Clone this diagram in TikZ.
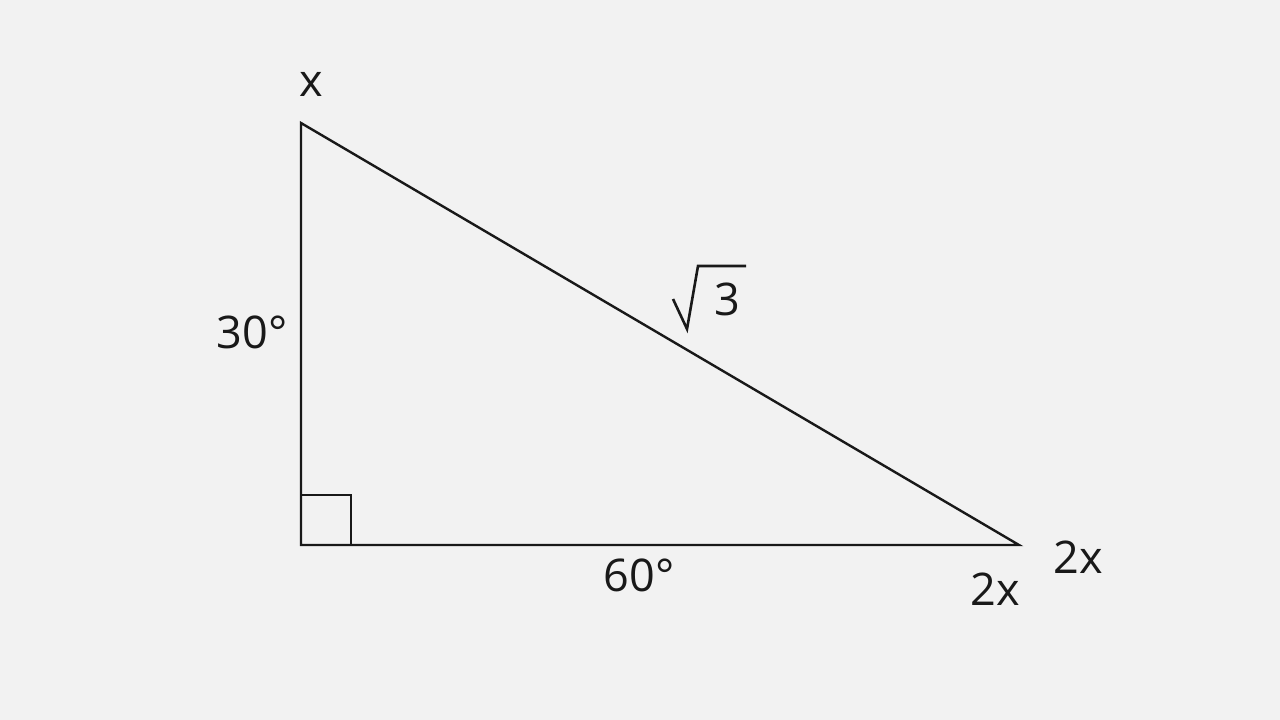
\documentclass[tikz,border=0pt]{standalone}
\usepackage{fontspec}
\setmainfont{Open Sans}
\begin{document}
\begin{tikzpicture}[x=1pt, y=-1pt]
		\tikzset{lbl/.style={inner sep=0pt, text=black!90, font=\fontsize{45}{54}\selectfont}};
		\tikzset{edge/.style={draw=black!90, line width=2.4pt, line join=miter}};

		\fill[black!5] (0, 0) rectangle (1280, 720);
		\useasboundingbox (0, 0) rectangle (1280, 720);

		\coordinate (top) at (301, 123);
		\coordinate (rt) at (301, 545);
		\coordinate (rgt) at (1019, 545);

		\draw[edge] (top) -- (rt) -- (rgt) -- cycle;
		\draw[edge] (rt) rectangle (351, 495);

		\node[lbl] (x) at (311, 84) {x};
		\node[lbl] (a30) at (252, 332) {30°};
		\node[lbl] (a60) at (639, 575) {60°};
		\node[lbl] (b2x) at (995, 589) {2x};
		\node[lbl] (c2x) at (1078, 557) {2x};

		% root sign drawn by hand
		\node[lbl] (r3) at (727, 299) {3};
		\coordinate (rs) at (673, 299);
		\coordinate (rb) at (687, 329);
		\coordinate (rtop) at (698, 266);
		\coordinate (rend) at (746, 266);
		\draw[black!90, line width=2.6pt, line join=miter] (rs) -- (rb) -- (rtop) -- (rend);
	\end{tikzpicture}
\end{document}
